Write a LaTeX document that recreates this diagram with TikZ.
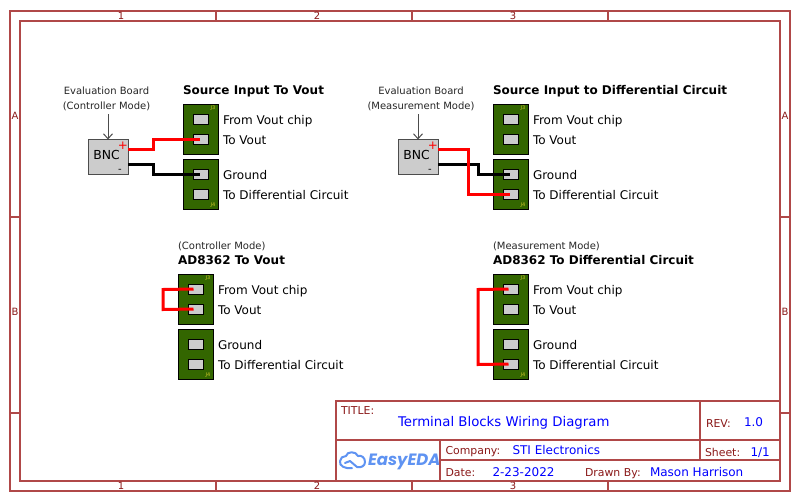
\documentclass[tikz,border=0pt]{standalone}
\usepackage{fontspec}
\setmainfont{DejaVu Sans}
\newfontfamily\logofont{Poppins}
\usetikzlibrary{arrows.meta}
\definecolor{frame}{HTML}{B04848}
\definecolor{dred}{HTML}{8B1A1A}
\definecolor{board}{HTML}{336600}
\definecolor{logo}{HTML}{5F93F2}
\tikzset{
  every node/.style={inner sep=0pt,outer sep=0pt},
  frameline/.style={draw=frame,line width=1.1pt},
  block/.style={draw=black,fill=board,line width=1pt,minimum width=35pt,minimum height=50pt,anchor=north west},
  pad/.style={draw=black,fill=black!20,line width=1pt,minimum width=15pt,minimum height=10pt,anchor=north west},
  bnc/.style={draw=black!70,fill=black!20,line width=1pt,minimum width=40pt,minimum height=35pt,anchor=north west},
  lbl/.style={anchor=base west,font=\fontsize{12}{14}\selectfont},
  head/.style={anchor=base west,font=\fontsize{12}{14}\selectfont\bfseries},
  small/.style={anchor=base,text=black!85,font=\fontsize{10}{12}\selectfont},
  jlbl/.style={text=yellow!80!black,font=\fontsize{5}{6}\selectfont},
  zone/.style={text=dred,font=\fontsize{10}{11}\selectfont},
  tkey/.style={anchor=base west,text=dred,font=\fontsize{10.9}{12}\selectfont},
  tval/.style={anchor=base west,text=blue,font=\fontsize{12}{14}\selectfont},
  redw/.style={draw=red,line width=3pt,line join=miter},
  blkw/.style={draw=black,line width=3pt,line join=miter},
  pointer/.style={draw=black!70,line width=1pt,-{Straight Barb[length=5pt,width=9pt]}},
}
\newcommand{\terminals}[3]{% prefix, x, ytop j3
  \node[block] (#1a) at (#2,#3) {};
  \node[block] (#1b) at (#2,#3+55) {};
  \node[pad] (#1p1) at (#2+10,#3+10) {};
  \node[pad] (#1p2) at (#2+10,#3+30) {};
  \node[pad] (#1p3) at (#2+10,#3+65) {};
  \node[pad] (#1p4) at (#2+10,#3+85) {};
  \node[jlbl] (#1j3) at (#2+30,#3+4) {J3};
  \node[jlbl] (#1j4) at (#2+30,#3+101) {J4};
  \node[lbl] (#1t1) at (#2+40,#3+20.5) {From Vout chip};
  \node[lbl] (#1t2) at (#2+40,#3+40.5) {To Vout};
  \node[lbl] (#1t3) at (#2+40,#3+75.5) {Ground};
  \node[lbl] (#1t4) at (#2+40,#3+95.5) {To Differential Circuit};
}
\newcommand{\bncbox}[2]{% prefix, x
  \node[bnc] (#1) at (#2,139.5) {};
  \node[font=\fontsize{12.4}{14}\selectfont] (#1t) at (#2+18.5,155) {BNC};
  \node[text=red,font=\fontsize{12}{14}\selectfont] (#1plus) at (#2+35,146) {+};
  \node[font=\fontsize{10}{12}\selectfont] (#1minus) at (#2+32,171) {-};
  \coordinate (#1r) at (#2+40,149);
  \coordinate (#1k) at (#2+40,164);
}
\begin{document}
\begin{tikzpicture}[x=1pt,y=-1pt]
\useasboundingbox (0,0) rectangle (800,501);
\fill[white] (0,0) rectangle (800,501);
% frame
\draw[frameline] (10,11) rectangle (790,491);
\draw[frameline] (20,21) rectangle (780,481);
\foreach \x in {216,412,608} {
  \draw[frameline] (\x,11) -- (\x,21);
  \draw[frameline] (\x,481) -- (\x,491);
}
\foreach \y in {217,413} {
  \draw[frameline] (10,\y) -- (20,\y);
  \draw[frameline] (780,\y) -- (790,\y);
}
\foreach \x/\t in {121/1,317/2,513/3} {
  \node[zone] at (\x,16) {\t};
  \node[zone] at (\x,486) {\t};
}
\foreach \y/\t in {116/A,312/B} {
  \node[zone] at (15,\y) {\t};
  \node[zone] at (785,\y) {\t};
}
% title block
\draw[frameline] (336,401) rectangle (780,481);
\draw[frameline] (700,401) -- (700,460);
\draw[frameline] (336,440) -- (780,440);
\draw[frameline] (440,460) -- (780,460);
\draw[frameline] (440,440) -- (440,481);
\node[tkey] (tk1) at (341,414) {TITLE:};
\node[anchor=base west,text=blue,font=\fontsize{13.3}{15}\selectfont] (tv1) at (398,426.7) {Terminal Blocks Wiring Diagram};
\node[tkey] (tk2) at (706,427) {REV:};
\node[tval] (tv2) at (744,426.7) {1.0};
\node[tkey] (tk3) at (445.5,454.3) {Company:};
\node[tval] (tv3) at (512.5,454) {STI Electronics};
\node[tkey] (tk4) at (705,456.3) {Sheet:};
\node[tval] (tv4) at (750.5,456.7) {1/1};
\node[tkey] (tk5) at (445.5,476) {Date:};
\node[tval] (tv5) at (492.5,476) {2-23-2022};
\node[tkey] (tk6) at (585,476) {Drawn By:};
\node[tval] (tv6) at (650,476) {Mason Harrison};
% logo
\draw[logo,line width=2pt,line cap=round,line join=round]
  (352,468) .. controls (345,469) and (339,466) .. (340,461)
  .. controls (340,458) and (343,456) .. (346,456)
  .. controls (347,451) and (356,451) .. (358,456)
  .. controls (362,455) and (365,458) .. (365,462)
  .. controls (365,466) and (361,468) .. (357,467)
  -- (350,461) -- (345,463);
\node[anchor=west,text=logo,font=\logofont\fontsize{16.4}{18}\selectfont\bfseries\itshape] (lg) at (368,462) {EasyEDA};
% top-left group
\node[small] (e1a) at (106.5,94.5) {Evaluation Board};
\node[small] (e1b) at (106.5,109.5) {(Controller Mode)};
\node[head] (h1) at (183,94.5) {Source Input To Vout};
\bncbox{b1}{88}
\terminals{A}{183}{104}
\coordinate (a1) at (108,114);
\draw[pointer] (a1) -- (b1.north -| a1);
\draw[redw] (b1r) -- (153,149) -- (153,139) -- ([xshift=-0.5pt]Ap2.center);
\draw[blkw] (b1k) -- (153,164) -- (153,174) -- ([xshift=-0.5pt]Ap3.center);
% top-right group
\node[small] (e2a) at (421,94.5) {Evaluation Board};
\node[small] (e2b) at (421,109.5) {(Measurement Mode)};
\node[head] (h2) at (493,94.5) {Source Input to Differential Circuit};
\bncbox{b2}{398}
\terminals{B}{493}{104}
\coordinate (a2) at (418,114);
\draw[pointer] (a2) -- (b2.north -| a2);
\draw[blkw] (b2k) -- (478,164) -- (478,174) -- ([xshift=-0.5pt]Bp3.center);
\draw[redw] (b2r) -- (468,149) -- (468,194) -- ([xshift=-0.5pt]Bp4.center);
% bottom-left group
\node[small,anchor=base west] (m1) at (178,249.5) {(Controller Mode)};
\node[head] (h3) at (178,264.5) {AD8362 To Vout};
\terminals{C}{178}{274}
\draw[redw] ([xshift=-2pt]Cp1.center) -- (163,289.5) -- (163,309.5) -- ([xshift=-2pt]Cp2.center);
% bottom-right group
\node[small,anchor=base west] (m2) at (493,249.5) {(Measurement Mode)};
\node[head] (h4) at (493,264.5) {AD8362 To Differential Circuit};
\terminals{D}{493}{274}
\draw[redw] ([xshift=-2pt]Dp1.center) -- (478,289.5) -- (478,364.5) -- ([xshift=-2pt]Dp4.center);
\end{tikzpicture}
\end{document}
